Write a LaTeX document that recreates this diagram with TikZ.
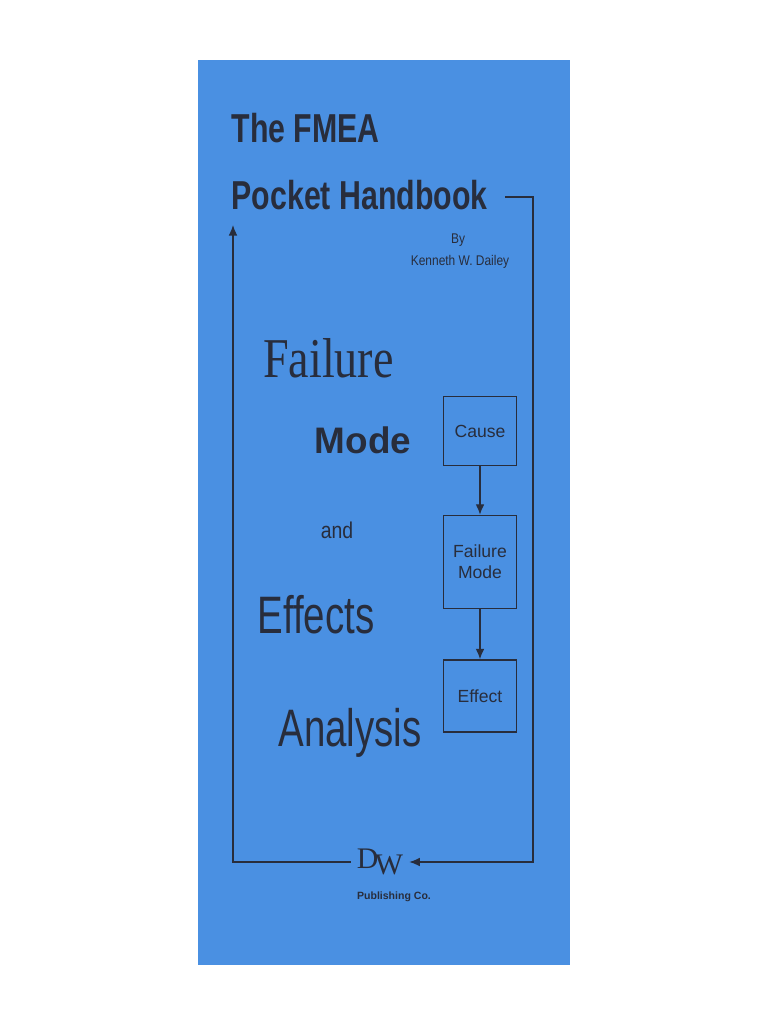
\documentclass[tikz,border=0pt]{standalone}
\usepackage{fontspec}
\setmainfont{Liberation Sans}
\newfontfamily\serifcover{Liberation Serif}
\usetikzlibrary{positioning}
\definecolor{coverblue}{RGB}{74,144,226}
\definecolor{ink}{RGB}{40,45,60}
\tikzset{stage/.style={draw=ink,thick,minimum width=1.46cm,text=ink,font=\fontsize{10}{12}\selectfont,align=center},
  narrow/.style={xscale=#1,transform shape},
  flow/.style={-{Latex[length=6pt,width=5pt]},ink,thick}}
\usetikzlibrary{arrows.meta}
\begin{document}
\begin{tikzpicture}[x=0.02cm,y=-0.02cm]
\fill[white](0,0) rectangle (768,1024);
\fill[coverblue](198,60) rectangle (570,965);
\begin{scope}[text=ink]
\node[anchor=west,narrow=0.75,font=\bfseries\fontsize{23}{26}\selectfont](title1) at (227,128){The FMEA};
\node[anchor=west,narrow=0.75,font=\bfseries\fontsize{23}{26}\selectfont](title2) at (227,195){Pocket Handbook};
\node[narrow=0.85,font=\fontsize{8}{9}\selectfont](by) at (458,240){By};
\node[narrow=0.85,font=\fontsize{8}{9}\selectfont](author) at (460,262){Kenneth W. Dailey};
\node[anchor=west,narrow=0.82,font=\serifcover\fontsize{32}{36}\selectfont](failure) at (258,358){Failure};
\node[font=\bfseries\fontsize{21}{24}\selectfont](mode) at (363,440){Mode};
\node[narrow=0.85,font=\fontsize{13}{15}\selectfont](and) at (337,530){and};
\node[narrow=0.73,font=\fontsize{30}{34}\selectfont](effects) at (316,615){Effects};
\node[narrow=0.73,font=\fontsize{30}{34}\selectfont](analysis) at (350,733){Analysis};
\end{scope}
\node[stage,minimum height=1.38cm](cause) at (480,431){Cause};
\node[stage,minimum height=1.86cm](fmode) at (480,562){Failure\\Mode};
\node[stage,minimum height=1.44cm](effect) at (480,696){Effect};
\draw[flow](cause)--(fmode);
\draw[flow](fmode)--(effect);
\node[text=ink,font=\serifcover\fontsize{17}{18}\selectfont](logo) at (380,862){D\kern-0.12em\raisebox{-0.5ex}{W}};
\node[text=ink,font=\bfseries\fontsize{6}{7}\selectfont](publisher) at (394,897){Publishing Co.};
\coordinate (titleend) at (505,197);
\coordinate (topright) at (533,197);
\coordinate (botright) at (533,862);
\coordinate (botleft) at (233,862);
\coordinate (topleft) at (233,225);
\draw[flow](titleend)--(topright)--(botright)--(logo.east);
\draw[flow](logo.west)--(botleft)--(topleft);
\end{tikzpicture}
\end{document}
